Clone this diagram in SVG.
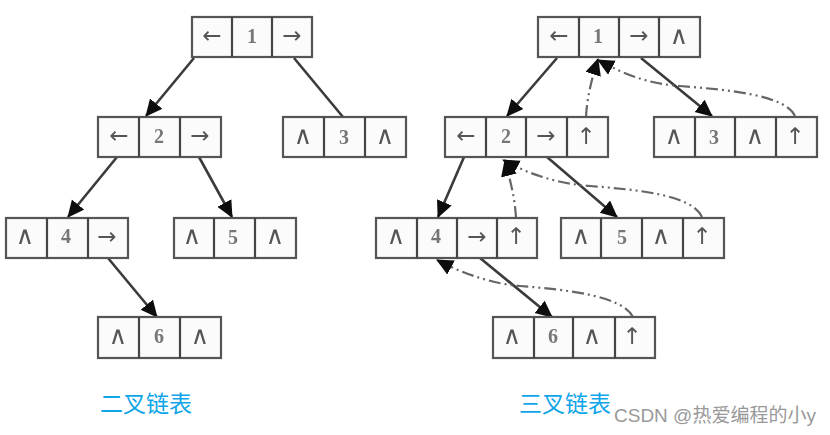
<svg xmlns="http://www.w3.org/2000/svg" width="830" height="435" viewBox="0 0 830 435">
<style>
.box{fill:#fbfbfb;stroke:#555;stroke-width:2.2}
.div{stroke:#444;stroke-width:2.2}
.t{font-family:"Liberation Serif","DejaVu Serif",serif;font-size:20px;font-weight:bold;fill:#777;text-anchor:middle}
.g{font-family:"DejaVu Sans",sans-serif;font-size:23px;fill:#555;text-anchor:middle}
.w{font-family:"DejaVu Sans",sans-serif;font-size:25px;fill:#555;text-anchor:middle}
.e{stroke:#3a3a3a;stroke-width:2.6;fill:none}
.p{stroke:#666;stroke-width:2.2;fill:none;stroke-dasharray:12 4 2 4 2 4}
.cap{font-family:"Noto Sans CJK SC",sans-serif;font-size:23px;fill:#0ea5e9}
.wm{font-family:"Liberation Sans","Noto Sans CJK SC",sans-serif;font-size:19px;fill:#999}
</style>
<defs>
<marker id="a" markerUnits="userSpaceOnUse" markerWidth="20" markerHeight="18" refX="16" refY="8" orient="auto"><path d="M0 0L17 8L0 16Z" fill="#111"/></marker>
<filter id="soft" x="-5%" y="-5%" width="110%" height="110%"><feGaussianBlur stdDeviation="0.55"/></filter>
</defs>
<rect width="830" height="435" fill="#fff"/>
<g filter="url(#soft)">
<g id="connectors">
<path class="e" marker-end="url(#a)" d="M194 58L146 116"/>
<path class="e" d="M294 58L343 117"/>
<path class="e" marker-end="url(#a)" d="M117 157L68 217"/>
<path class="e" marker-end="url(#a)" d="M199 157L232 217"/>
<path class="e" marker-end="url(#a)" d="M108 258L157 317"/>
<path class="e" marker-end="url(#a)" d="M557 58L507 116"/>
<path class="e" marker-end="url(#a)" d="M641 58L712 116"/>
<path class="e" marker-end="url(#a)" d="M464 157L438 217"/>
<path class="e" marker-end="url(#a)" d="M547 157L617 217"/>
<path class="e" marker-end="url(#a)" d="M480 258L552 317"/>
<path class="p" marker-end="url(#a)" d="M586 117C587 97 592 78 598 59"/>
<path class="p" marker-end="url(#a)" d="M795 116C785 95 730 90 680 86C650 84 625 75 598 60"/>
<path class="p" marker-end="url(#a)" d="M516 218C515 198 510 180 505 160"/>
<path class="p" marker-end="url(#a)" d="M702 217C692 195 640 190 590 186C560 184 530 175 503 160"/>
<path class="p" marker-end="url(#a)" d="M633 317C622 296 570 290 520 286C495 284 465 275 437 260"/>
</g>
<g id="l1"><rect class="box" x="192" y="17" width="120" height="40"/><path class="div" d="M232 17V57M272 17V57"/><text class="g" x="212" y="43">←</text><text class="t" x="252" y="43">1</text><text class="g" x="292" y="43">→</text></g>
<g id="l2"><rect class="box" x="98" y="117" width="123" height="40"/><path class="div" d="M139 117V157M180 117V157"/><text class="g" x="119" y="143">←</text><text class="t" x="159" y="143">2</text><text class="g" x="200" y="143">→</text></g>
<g id="l3"><rect class="box" x="283" y="117" width="123" height="40"/><path class="div" d="M324 117V157M365 117V157"/><text class="w" x="303" y="144">∧</text><text class="t" x="344" y="144">3</text><text class="w" x="385" y="144">∧</text></g>
<g id="l4"><rect class="box" x="6" y="218" width="122" height="40"/><path class="div" d="M47 218V258M88 218V258"/><text class="w" x="25" y="244">∧</text><text class="t" x="66" y="243">4</text><text class="g" x="107" y="244">→</text></g>
<g id="l5"><rect class="box" x="174" y="218" width="122" height="40"/><path class="div" d="M214 218V258M255 218V258"/><text class="w" x="192" y="244">∧</text><text class="t" x="233" y="244">5</text><text class="w" x="275" y="244">∧</text></g>
<g id="l6"><rect class="box" x="98" y="317" width="123" height="41"/><path class="div" d="M139 317V358M180 317V358"/><text class="w" x="118" y="344">∧</text><text class="t" x="159" y="343">6</text><text class="w" x="200" y="344">∧</text></g>
<g id="r1"><rect class="box" x="538" y="17" width="162" height="40"/><path class="div" d="M579 17V57M619 17V57M659 17V57"/><text class="g" x="559" y="43">←</text><text class="t" x="598" y="43">1</text><text class="g" x="639" y="43">→</text><text class="w" x="679" y="44">∧</text></g>
<g id="r2"><rect class="box" x="445" y="117" width="163" height="40"/><path class="div" d="M486 117V157M526 117V157M567 117V157"/><text class="g" x="466" y="143">←</text><text class="t" x="506" y="143">2</text><text class="g" x="546" y="143">→</text><text class="g" x="586" y="144">↑</text></g>
<g id="r3"><rect class="box" x="654" y="117" width="163" height="40"/><path class="div" d="M695 117V157M735 117V157M776 117V157"/><text class="w" x="674" y="144">∧</text><text class="t" x="714" y="144">3</text><text class="w" x="755" y="144">∧</text><text class="g" x="795" y="144">↑</text></g>
<g id="r4"><rect class="box" x="376" y="218" width="161" height="40"/><path class="div" d="M417 218V258M457 218V258M497 218V258"/><text class="w" x="396" y="244">∧</text><text class="t" x="436" y="243">4</text><text class="g" x="477" y="244">→</text><text class="g" x="516" y="244">↑</text></g>
<g id="r5"><rect class="box" x="561" y="218" width="163" height="40"/><path class="div" d="M601 218V258M642 218V258M683 218V258"/><text class="w" x="581" y="244">∧</text><text class="t" x="622" y="244">5</text><text class="w" x="661" y="244">∧</text><text class="g" x="702" y="244">↑</text></g>
<g id="r6"><rect class="box" x="493" y="317" width="162" height="41"/><path class="div" d="M534 317V358M573 317V358M615 317V358"/><text class="w" x="512" y="344">∧</text><text class="t" x="553" y="343">6</text><text class="w" x="592" y="344">∧</text><text class="g" x="632" y="344">↑</text></g>
</g>
<text class="cap" x="100" y="412">二叉链表</text>
<text class="cap" x="519" y="412">三叉链表</text>
<text class="wm" x="614" y="422">CSDN @热爱编程的小y</text>
</svg>
